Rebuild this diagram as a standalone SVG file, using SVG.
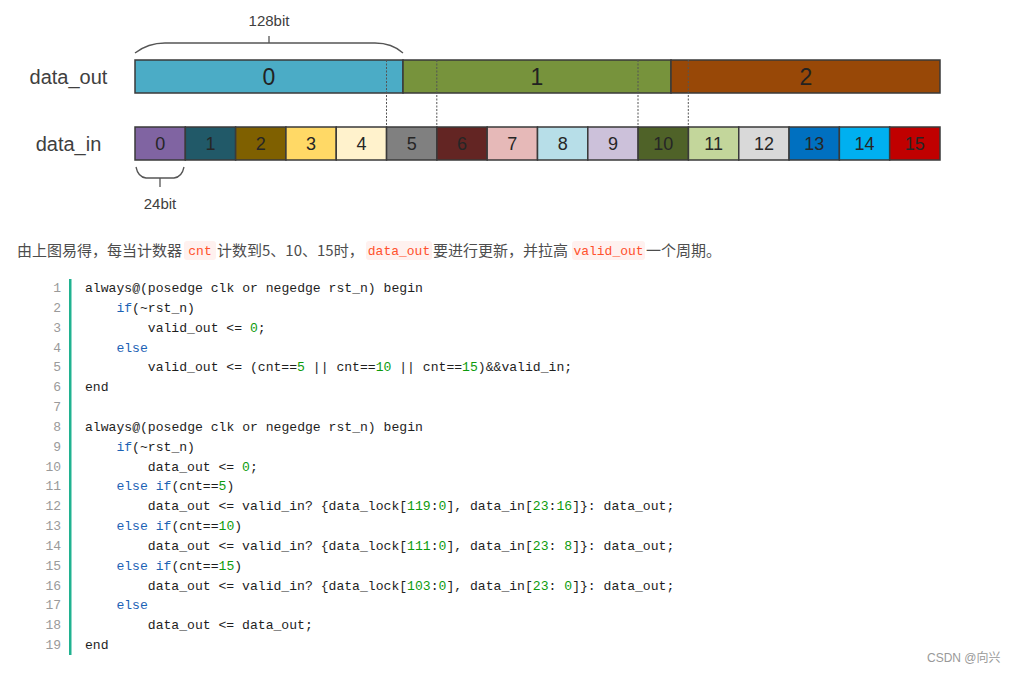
<svg xmlns="http://www.w3.org/2000/svg" width="1009" height="673" viewBox="0 0 1009 673">
<style>
.lbl{font-family:"Liberation Sans",Arial,sans-serif;font-size:20px;fill:#404040;text-anchor:middle}
.big{font-family:"Liberation Sans",Arial,sans-serif;font-size:23px;fill:#222;text-anchor:middle}
.dig{font-family:"Liberation Sans",Arial,sans-serif;font-size:18px;fill:#262626;text-anchor:middle}
.bit{font-family:"Liberation Sans",Arial,sans-serif;font-size:15px;fill:#404040;text-anchor:middle}
.seg{stroke:#3a3a3a;stroke-width:1.5}
.cell{stroke:#3a3a3a;stroke-width:1.5}
.dot{stroke:#555;stroke-width:1;stroke-dasharray:2 1.5;fill:none}
.brace{stroke:#555;stroke-width:1.3;fill:none}
.p{font-family:"Noto Sans CJK SC","Noto Sans",sans-serif;font-size:15px;fill:#4d4d4d}
.badge{fill:#fff1ef}
.bt{font-family:"Liberation Mono","DejaVu Sans Mono",monospace;font-size:13px;fill:#ff502c;text-anchor:middle}
.code{font-family:"Liberation Mono","DejaVu Sans Mono",monospace;font-size:13.1px;fill:#1e1e1e;white-space:pre}
.ln{font-family:"Liberation Mono","DejaVu Sans Mono",monospace;font-size:13px;fill:#9a9a9a;text-anchor:end}
.kw{fill:#1c62b5}
.num{fill:#0d9b0d}
.wm{font-family:"Liberation Sans",Arial,sans-serif;font-size:12px;fill:#999}
</style>
<rect width="1009" height="673" fill="#ffffff"/>

<g id="labels">
<text class="lbl" x="68.5" y="84">data_out</text>
<text class="lbl" x="68.5" y="151">data_in</text>
</g>

<g id="brace-128">
<path class="brace" d="M135,53 Q148,43 165,43 L375,43 Q392,43 403,53"/>
<line class="brace" x1="269" y1="36" x2="269" y2="43"/>
<text class="bit" x="269" y="26">128bit</text>
</g>

<g id="data_out">
<rect class="seg" x="135" y="60" width="268" height="33" fill="#4BACC6"/>
<rect class="seg" x="403" y="60" width="268" height="33" fill="#77933C"/>
<rect class="seg" x="671" y="60" width="269" height="33" fill="#984807"/>
<text class="big" x="269" y="85">0</text>
<text class="big" x="537" y="85">1</text>
<text class="big" x="806" y="85">2</text>
</g>

<g id="connectors">
<line class="dot" x1="386.5" y1="60" x2="386.5" y2="127"/>
<line class="dot" x1="436.8" y1="60" x2="436.8" y2="127"/>
<line class="dot" x1="638" y1="60" x2="638" y2="127"/>
<line class="dot" x1="688.3" y1="60" x2="688.3" y2="127"/>
</g>

<g id="data_in">
<rect class="cell" x="135" y="127" width="50.31" height="33" fill="#8064A2"/>
<rect class="cell" x="185.31" y="127" width="50.31" height="33" fill="#215968"/>
<rect class="cell" x="235.63" y="127" width="50.31" height="33" fill="#7F6000"/>
<rect class="cell" x="285.94" y="127" width="50.31" height="33" fill="#FFD966"/>
<rect class="cell" x="336.25" y="127" width="50.31" height="33" fill="#FFF2CC"/>
<rect class="cell" x="386.56" y="127" width="50.31" height="33" fill="#808080"/>
<rect class="cell" x="436.88" y="127" width="50.31" height="33" fill="#632523"/>
<rect class="cell" x="487.19" y="127" width="50.31" height="33" fill="#E6B9B8"/>
<rect class="cell" x="537.5" y="127" width="50.31" height="33" fill="#B7DEE8"/>
<rect class="cell" x="587.81" y="127" width="50.31" height="33" fill="#CCC1DA"/>
<rect class="cell" x="638.13" y="127" width="50.31" height="33" fill="#4F6228"/>
<rect class="cell" x="688.44" y="127" width="50.31" height="33" fill="#C3D69B"/>
<rect class="cell" x="738.75" y="127" width="50.31" height="33" fill="#D9D9D9"/>
<rect class="cell" x="789.06" y="127" width="50.31" height="33" fill="#0070C0"/>
<rect class="cell" x="839.38" y="127" width="50.31" height="33" fill="#00B0F0"/>
<rect class="cell" x="889.69" y="127" width="50.31" height="33" fill="#C00000"/>
<text class="dig" x="160.2" y="150">0</text>
<text class="dig" x="210.5" y="150">1</text>
<text class="dig" x="260.8" y="150">2</text>
<text class="dig" x="311.1" y="150">3</text>
<text class="dig" x="361.4" y="150">4</text>
<text class="dig" x="411.7" y="150">5</text>
<text class="dig" x="462" y="150">6</text>
<text class="dig" x="512.3" y="150">7</text>
<text class="dig" x="562.7" y="150">8</text>
<text class="dig" x="613" y="150">9</text>
<text class="dig" x="663.3" y="150">10</text>
<text class="dig" x="713.6" y="150">11</text>
<text class="dig" x="763.9" y="150">12</text>
<text class="dig" x="814.2" y="150">13</text>
<text class="dig" x="864.5" y="150">14</text>
<text class="dig" x="914.8" y="150">15</text>
</g>

<g id="brace-24">
<path class="brace" d="M136,167 Q138,177 146,178 L174,178 Q182,177 184,167"/>
<line class="brace" x1="160" y1="178" x2="160" y2="187"/>
<text class="bit" x="160" y="209">24bit</text>
</g>

<g id="paragraph">
<rect class="badge" x="184" y="241" width="32" height="19" rx="3"/>
<rect class="badge" x="366" y="241" width="66" height="19" rx="3"/>
<rect class="badge" x="572" y="241" width="73" height="19" rx="3"/>
<text class="p" x="17" y="256">由上图易得，每当计数器</text>
<text class="bt" x="200" y="255">cnt</text>
<text class="p" x="217" y="256">计数到5、10、15时，</text>
<text class="bt" x="399" y="255">data_out</text>
<text class="p" x="433" y="256">要进行更新，并拉高</text>
<text class="bt" x="608.5" y="255">valid_out</text>
<text class="p" x="646" y="256">一个周期。</text>
</g>

<g id="code">
<rect x="69" y="279" width="2.5" height="376" fill="#20b290"/>
<text class="ln" x="61" y="292">1</text>
<text class="ln" x="61" y="311.8">2</text>
<text class="ln" x="61" y="331.7">3</text>
<text class="ln" x="61" y="351.5">4</text>
<text class="ln" x="61" y="371.3">5</text>
<text class="ln" x="61" y="391.2">6</text>
<text class="ln" x="61" y="411">7</text>
<text class="ln" x="61" y="430.8">8</text>
<text class="ln" x="61" y="450.6">9</text>
<text class="ln" x="61" y="470.5">10</text>
<text class="ln" x="61" y="490.3">11</text>
<text class="ln" x="61" y="510.1">12</text>
<text class="ln" x="61" y="530">13</text>
<text class="ln" x="61" y="549.8">14</text>
<text class="ln" x="61" y="569.6">15</text>
<text class="ln" x="61" y="589.5">16</text>
<text class="ln" x="61" y="609.3">17</text>
<text class="ln" x="61" y="629.1">18</text>
<text class="ln" x="61" y="649">19</text>

<text class="code" x="85" y="292">always@(posedge clk or negedge rst_n) begin</text>
<text class="code" x="116.4" y="311.8"><tspan class="kw">if</tspan>(~rst_n)</text>
<text class="code" x="147.8" y="331.7">valid_out &lt;= <tspan class="num">0</tspan>;</text>
<text class="code" x="116.4" y="351.5"><tspan class="kw">else</tspan></text>
<text class="code" x="147.8" y="371.3">valid_out &lt;= (cnt==<tspan class="num">5</tspan> || cnt==<tspan class="num">10</tspan> || cnt==<tspan class="num">15</tspan>)&amp;&amp;valid_in;</text>
<text class="code" x="85" y="391.2">end</text>
<text class="code" x="85" y="430.8">always@(posedge clk or negedge rst_n) begin</text>
<text class="code" x="116.4" y="450.6"><tspan class="kw">if</tspan>(~rst_n)</text>
<text class="code" x="147.8" y="470.5">data_out &lt;= <tspan class="num">0</tspan>;</text>
<text class="code" x="116.4" y="490.3"><tspan class="kw">else if</tspan>(cnt==<tspan class="num">5</tspan>)</text>
<text class="code" x="147.8" y="510.1">data_out &lt;= valid_in? {data_lock[<tspan class="num">119</tspan>:<tspan class="num">0</tspan>], data_in[<tspan class="num">23</tspan>:<tspan class="num">16</tspan>]}: data_out;</text>
<text class="code" x="116.4" y="530"><tspan class="kw">else if</tspan>(cnt==<tspan class="num">10</tspan>)</text>
<text class="code" x="147.8" y="549.8">data_out &lt;= valid_in? {data_lock[<tspan class="num">111</tspan>:<tspan class="num">0</tspan>], data_in[<tspan class="num">23</tspan>: <tspan class="num">8</tspan>]}: data_out;</text>
<text class="code" x="116.4" y="569.6"><tspan class="kw">else if</tspan>(cnt==<tspan class="num">15</tspan>)</text>
<text class="code" x="147.8" y="589.5">data_out &lt;= valid_in? {data_lock[<tspan class="num">103</tspan>:<tspan class="num">0</tspan>], data_in[<tspan class="num">23</tspan>: <tspan class="num">0</tspan>]}: data_out;</text>
<text class="code" x="116.4" y="609.3"><tspan class="kw">else</tspan></text>
<text class="code" x="147.8" y="629.1">data_out &lt;= data_out;</text>
<text class="code" x="85" y="649">end</text>
</g>

<text class="wm" x="927" y="662">CSDN @<tspan font-family="'Noto Sans CJK SC',sans-serif">向兴</tspan></text>
</svg>
